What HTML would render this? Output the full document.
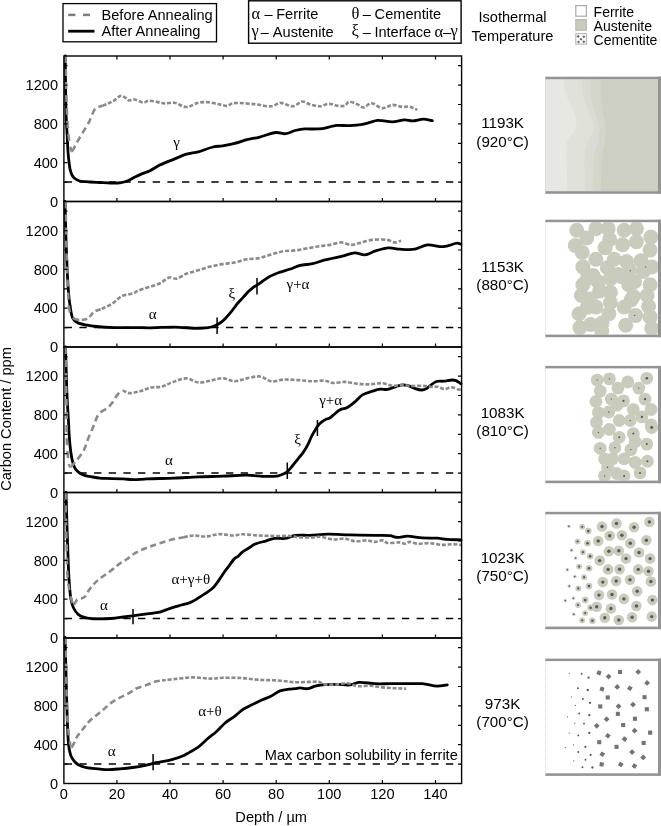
<!DOCTYPE html><html><head><meta charset="utf-8"><title>Carbon content profiles</title><style>html,body{margin:0;padding:0;background:#fff;}body{width:661px;height:826px;overflow:hidden;position:relative;}svg{position:absolute;left:0;top:0;display:block;}</style></head><body>
<svg width="661" height="826" viewBox="0 0 661 826" font-family="'Liberation Sans', Arial, sans-serif">
<rect width="661" height="826" fill="#fff"/>
<rect x="63" y="3.6" width="153.5" height="38.2" fill="none" stroke="#000" stroke-width="1.3"/>
<line x1="68.2" y1="14.9" x2="75.5" y2="14.9" stroke="#7e7e7e" stroke-width="2.5"/>
<line x1="83" y1="14.9" x2="90" y2="14.9" stroke="#7e7e7e" stroke-width="2.5"/>
<line x1="68.2" y1="31.2" x2="94.5" y2="31.2" stroke="#000" stroke-width="2.8"/>
<text x="101.5" y="19.6" font-size="14.6">Before Annealing</text>
<text x="101.5" y="35.8" font-size="14.6">After Annealing</text>
<rect x="248.6" y="0.8" width="212.5" height="42.4" fill="none" stroke="#000" stroke-width="1.4"/>
<text x="251.6" y="18.9" font-family="'Liberation Serif', 'Times New Roman', serif" font-size="16.5">α</text>
<text x="264.4" y="18.8" font-size="14.6">–</text>
<text x="276.2" y="18.8" font-size="14.6">Ferrite</text>
<text x="251.4" y="36.0" font-family="'Liberation Serif', 'Times New Roman', serif" font-size="16.5">γ</text>
<text x="260.8" y="36.8" font-size="14.6">–</text>
<text x="272.8" y="36.8" font-size="14.6">Austenite</text>
<text x="351.5" y="18.9" font-family="'Liberation Serif', 'Times New Roman', serif" font-size="16.5">θ</text>
<text x="362.8" y="18.8" font-size="14.6">–</text>
<text x="374.6" y="18.8" font-size="14.6">Cementite</text>
<text x="351.5" y="36.3" font-family="'Liberation Serif', 'Times New Roman', serif" font-size="16.5">ξ</text>
<text x="362.8" y="36.8" font-size="14.6">–</text>
<text x="374.4" y="36.8" font-size="14.6">Interface</text>
<text x="434.5" y="36.6" font-family="'Liberation Serif', 'Times New Roman', serif" font-size="16.5">α</text>
<text x="443.0" y="36.8" font-size="14.6">–</text>
<text x="450.5" y="36.0" font-family="'Liberation Serif', 'Times New Roman', serif" font-size="16.5">γ</text>
<text x="512.5" y="21.8" font-size="14.6" text-anchor="middle">Isothermal</text>
<text x="512.5" y="40.8" font-size="14.6" text-anchor="middle">Temperature</text>
<rect x="575.8" y="5.6" width="10.6" height="10.6" fill="#fff" stroke="#aaa" stroke-width="1.2"/>
<rect x="575.8" y="19.6" width="10.6" height="10.6" fill="#c9cbbd" stroke="#bbb" stroke-width="1.2"/>
<rect x="575.8" y="33.6" width="10.6" height="10.6" fill="#fff" stroke="#bbb" stroke-width="1.2"/>
<rect x="577.1" y="35.3" width="2.2" height="2.2" fill="#6a6a6a" transform="rotate(45 578.2 36.4)"/>
<rect x="582.6999999999999" y="35.6" width="2.2" height="2.2" fill="#6a6a6a" transform="rotate(45 583.8 36.7)"/>
<rect x="579.9" y="38.1" width="2.2" height="2.2" fill="#6a6a6a" transform="rotate(45 581.0 39.2)"/>
<rect x="577.4" y="40.9" width="2.2" height="2.2" fill="#6a6a6a" transform="rotate(45 578.5 42.0)"/>
<rect x="582.6999999999999" y="40.699999999999996" width="2.2" height="2.2" fill="#6a6a6a" transform="rotate(45 583.8 41.8)"/>
<text x="593.6" y="16.8" font-size="14">Ferrite</text>
<text x="593.6" y="31.0" font-size="14">Austenite</text>
<text x="593.6" y="45.0" font-size="14">Cementite</text>
<text x="502.6" y="128.0" font-size="15.2" text-anchor="middle">1193K</text>
<text x="502.6" y="146.5" font-size="15.2" text-anchor="middle">(920°C)</text>
<text x="502.6" y="271.7" font-size="15.2" text-anchor="middle">1153K</text>
<text x="502.6" y="290.0" font-size="15.2" text-anchor="middle">(880°C)</text>
<text x="502.6" y="417.5" font-size="15.2" text-anchor="middle">1083K</text>
<text x="502.6" y="435.5" font-size="15.2" text-anchor="middle">(810°C)</text>
<text x="502.6" y="562.8" font-size="15.2" text-anchor="middle">1023K</text>
<text x="502.6" y="581.0" font-size="15.2" text-anchor="middle">(750°C)</text>
<text x="502.6" y="708.9" font-size="15.2" text-anchor="middle">973K</text>
<text x="502.6" y="726.5" font-size="15.2" text-anchor="middle">(700°C)</text>
<line x1="63.9" y1="182.1" x2="461.6" y2="182.1" stroke="#000" stroke-width="1.5" stroke-dasharray="7.33 7.33" stroke-dashoffset="-0.85"/>
<path d="M65.30,56.00C65.40,67.33 65.42,79.02 65.60,90.00C65.77,100.31 65.95,111.37 66.30,120.00C66.57,126.56 67.01,131.79 67.30,137.30C67.57,142.35 67.67,147.31 68.00,151.80C68.29,155.70 68.69,159.45 69.10,162.70C69.44,165.35 69.66,167.73 70.20,169.90C70.67,171.77 71.21,173.54 72.00,175.00C72.69,176.28 73.43,177.36 74.50,178.30C75.68,179.33 77.23,180.23 78.90,180.80C80.80,181.45 83.42,181.50 85.40,181.70C87.06,181.87 88.17,181.89 90.00,182.00C92.69,182.16 96.67,182.33 100.00,182.50C103.33,182.67 106.85,182.92 110.00,183.00C112.81,183.07 115.53,183.20 118.00,183.00C120.15,182.82 122.11,182.49 124.00,182.00C125.76,181.54 127.29,180.96 129.00,180.20C130.94,179.34 132.93,178.03 135.00,177.00C137.16,175.93 139.33,174.90 141.70,173.90C144.30,172.80 147.18,172.05 150.00,170.70C153.17,169.19 156.08,166.89 159.70,165.10C163.99,162.99 169.58,160.99 174.20,159.10C178.41,157.38 182.21,155.42 186.30,154.20C190.28,153.01 194.22,152.90 198.40,151.80C203.05,150.57 208.51,147.99 212.90,147.00C216.41,146.21 219.20,146.35 222.60,145.80C226.42,145.19 230.69,144.41 234.70,143.40C238.76,142.38 242.74,140.72 246.80,139.70C250.81,138.69 254.55,138.34 258.90,137.30C264.11,136.05 270.99,132.87 275.90,132.50C279.55,132.22 282.41,134.02 285.60,133.70C288.85,133.38 291.96,131.32 295.20,130.50C298.40,129.69 302.17,128.98 304.90,128.80C306.86,128.67 307.93,128.99 310.00,129.00C313.25,129.01 318.59,129.14 322.50,128.60C326.05,128.11 329.74,126.64 332.50,126.10C334.41,125.73 335.38,125.53 337.40,125.40C340.60,125.20 345.74,125.77 349.90,125.60C354.07,125.43 358.79,125.05 362.40,124.40C365.24,123.89 367.40,123.07 369.90,122.40C372.40,121.73 375.14,120.63 377.40,120.40C379.22,120.22 380.45,120.52 382.40,120.70C385.16,120.95 388.89,121.97 392.40,121.90C396.32,121.82 401.18,119.95 404.80,119.90C407.61,119.86 409.55,120.92 412.30,120.90C415.68,120.87 420.08,119.16 423.60,119.20C426.69,119.23 429.40,120.20 432.30,120.70" fill="none" stroke="#000" stroke-width="2.8" stroke-linejoin="round" stroke-linecap="round"/>
<path d="M65.50,56.00C65.83,70.67 66.02,86.74 66.50,100.00C66.90,110.96 67.24,121.73 68.00,130.00C68.54,135.87 69.18,141.11 70.00,145.00C70.53,147.54 70.95,151.08 71.80,151.20" fill="none" stroke="#8a8a8a" stroke-width="2.6" stroke-dasharray="7 6" stroke-linejoin="round"/>
<path d="M71.80,151.20C72.63,151.31 73.96,147.79 75.00,146.00C76.07,144.16 76.89,142.41 78.10,140.30C79.65,137.60 81.78,134.24 83.60,131.20C85.41,128.17 87.37,125.32 89.00,122.10C90.72,118.71 92.12,113.90 93.60,111.30C94.52,109.68 95.01,108.50 96.30,107.60C97.84,106.52 100.51,106.54 102.60,105.80" fill="none" stroke="#8a8a8a" stroke-width="2.6" stroke-dasharray="6.5 4" stroke-linejoin="round"/>
<path d="M102.60,105.80C104.75,105.04 106.97,104.03 109.00,103.10C110.89,102.23 112.57,101.51 114.40,100.40C116.49,99.14 118.83,96.04 120.80,95.80C122.29,95.62 123.66,96.76 125.00,97.50C126.40,98.28 127.48,100.04 129.00,100.40C130.60,100.78 132.39,99.35 134.40,99.50C137.06,99.70 140.85,102.50 143.50,102.50C145.56,102.50 146.84,100.86 149.00,100.70C151.98,100.47 156.94,101.99 159.80,102.50C161.69,102.84 162.64,103.29 164.50,103.40C167.15,103.56 170.84,102.24 174.20,102.70C178.06,103.22 182.27,107.00 186.30,107.00C190.33,107.00 194.54,103.47 198.40,102.70C201.76,102.03 204.70,101.95 208.10,102.20C211.93,102.48 216.67,103.96 220.20,104.60C222.93,105.10 225.37,106.12 227.50,105.80C229.32,105.52 230.04,103.90 232.30,103.40C236.87,102.40 247.31,103.55 254.10,104.10C260.10,104.59 266.19,106.80 271.00,106.30C274.73,105.91 277.27,103.01 280.70,102.90C284.49,102.78 289.05,106.65 292.80,106.30C296.28,105.98 299.45,101.64 302.50,101.50C305.13,101.38 307.28,103.64 310.00,104.40C313.06,105.26 316.80,106.36 320.00,106.20C323.02,106.05 325.79,103.78 328.70,103.70C331.59,103.62 334.59,105.38 337.40,105.70C339.98,105.99 342.94,106.51 344.90,105.70C346.56,105.01 347.06,102.36 348.70,101.90C350.66,101.35 353.75,102.81 356.20,103.70C358.75,104.62 361.23,107.47 363.70,107.40C366.19,107.33 368.33,103.34 371.10,103.20C374.43,103.03 378.71,108.02 382.40,108.20C385.80,108.37 389.05,105.10 392.40,104.90C395.68,104.70 399.21,106.63 402.30,106.90C404.96,107.13 407.35,106.23 409.80,106.70C412.35,107.19 414.80,108.83 417.30,109.90" fill="none" stroke="#8a8a8a" stroke-width="2.6" stroke-dasharray="4.0 1.8" stroke-linejoin="round"/>
<rect x="63.9" y="56.0" width="397.70000000000005" height="145.5" fill="none" stroke="#000" stroke-width="1.4"/>
<path d="M116.9,56.0v3.6M116.9,201.5v-3.6M170.0,56.0v3.6M170.0,201.5v-3.6M223.1,56.0v3.6M223.1,201.5v-3.6M276.2,56.0v3.6M276.2,201.5v-3.6M329.3,56.0v3.6M329.3,201.5v-3.6M382.4,56.0v3.6M382.4,201.5v-3.6M435.5,56.0v3.6M435.5,201.5v-3.6M63.9,182.1h3.6M461.6,182.1h-3.6M63.9,162.7h3.6M461.6,162.7h-3.6M63.9,143.3h3.6M461.6,143.3h-3.6M63.9,123.9h3.6M461.6,123.9h-3.6M63.9,104.5h3.6M461.6,104.5h-3.6M63.9,85.1h3.6M461.6,85.1h-3.6M63.9,65.7h3.6M461.6,65.7h-3.6" stroke="#000" stroke-width="1.2" fill="none"/>
<text x="58" y="206.7" font-size="14.6" text-anchor="end">0</text>
<text x="58" y="167.9" font-size="14.6" text-anchor="end">400</text>
<text x="58" y="129.1" font-size="14.6" text-anchor="end">800</text>
<text x="58" y="90.3" font-size="14.6" text-anchor="end">1200</text>
<line x1="63.9" y1="327.6" x2="461.6" y2="327.6" stroke="#000" stroke-width="1.5" stroke-dasharray="7.33 7.33" stroke-dashoffset="-0.85"/>
<path d="M65.00,201.50C65.33,214.33 65.60,227.70 66.00,240.00C66.37,251.32 66.82,263.14 67.30,272.60C67.67,279.90 67.99,286.15 68.50,292.00C68.92,296.86 69.29,300.93 70.00,305.30C70.70,309.60 71.07,315.00 72.70,318.00C73.84,320.10 75.21,321.35 77.20,322.50C79.74,323.97 83.93,324.53 87.20,325.20C90.29,325.83 92.74,326.14 96.30,326.50C101.30,327.01 108.36,327.42 114.40,327.60C120.46,327.78 126.60,327.57 132.60,327.60C138.47,327.63 143.72,327.85 150.00,327.80C157.40,327.74 166.13,327.02 174.20,327.10C182.27,327.18 192.15,328.37 198.40,328.30C202.36,328.26 205.72,327.90 208.10,327.60C209.50,327.42 210.19,327.33 211.40,327.00C212.95,326.58 214.90,325.94 216.60,325.10C218.41,324.20 220.20,323.07 221.90,321.70C223.75,320.21 225.47,318.28 227.20,316.40C229.01,314.43 230.76,312.27 232.50,310.10C234.29,307.87 235.99,305.36 237.80,303.20C239.52,301.14 241.34,299.35 243.10,297.40C244.87,295.45 246.67,293.19 248.40,291.50C249.86,290.07 251.23,288.88 252.70,287.80C254.07,286.80 255.43,286.17 256.90,285.20C258.58,284.10 260.35,282.77 262.20,281.50C264.21,280.12 266.33,278.45 268.50,277.20C270.60,275.99 273.19,274.89 275.00,274.10C276.27,273.55 276.84,273.32 278.30,272.80C281.06,271.83 286.60,270.30 290.40,269.00C293.83,267.83 296.62,266.27 300.10,265.40C303.93,264.44 308.39,264.60 312.50,263.70C316.70,262.78 320.46,261.07 325.00,259.90C330.29,258.53 337.09,257.46 342.40,256.20C346.92,255.12 350.95,253.02 354.90,252.90C358.41,252.79 361.60,255.16 364.90,254.90C368.27,254.63 371.27,252.30 374.90,251.20C379.07,249.93 384.23,248.17 388.60,247.90C392.53,247.66 395.87,248.97 399.90,249.20C404.52,249.46 410.11,249.98 414.80,249.20C419.21,248.46 422.80,245.40 427.30,244.90C432.29,244.35 438.35,247.06 443.50,246.70C448.32,246.37 454.16,243.18 457.30,243.20C458.93,243.21 459.77,243.87 461.00,244.20" fill="none" stroke="#000" stroke-width="2.8" stroke-linejoin="round" stroke-linecap="round"/>
<path d="M65.50,201.50C65.83,217.67 66.05,234.61 66.50,250.00C66.91,263.98 67.28,278.58 68.00,290.00C68.54,298.58 68.15,307.44 70.00,312.50C71.09,315.48 72.49,317.69 74.50,318.90C76.45,320.07 79.55,319.85 81.80,319.80" fill="none" stroke="#8a8a8a" stroke-width="2.6" stroke-dasharray="7 6" stroke-linejoin="round"/>
<path d="M81.80,319.80C83.74,319.76 85.41,319.82 87.20,318.90C89.66,317.64 91.88,313.29 94.50,311.60C96.76,310.14 99.09,310.05 101.70,308.90" fill="none" stroke="#8a8a8a" stroke-width="2.6" stroke-dasharray="5.5 3" stroke-linejoin="round"/>
<path d="M101.70,308.90C104.99,307.46 109.23,305.55 112.60,303.40C115.88,301.30 118.33,297.85 121.70,296.20C125.01,294.58 129.65,294.61 132.60,293.50C134.77,292.68 135.84,291.61 138.00,290.70C140.96,289.45 145.28,288.30 148.90,287.10C152.51,285.90 156.28,285.10 159.70,283.50C163.12,281.90 166.30,278.11 169.40,277.50C171.88,277.01 174.09,279.08 176.60,278.70C179.67,278.23 182.82,275.18 186.30,273.80C190.05,272.31 194.37,271.40 198.40,270.20C202.43,269.00 206.44,267.62 210.50,266.60C214.51,265.59 218.55,264.78 222.60,264.10C226.62,263.42 230.69,263.29 234.70,262.50C238.76,261.70 242.74,260.03 246.80,259.30C250.80,258.58 254.90,258.89 258.90,258.10C262.97,257.30 266.96,255.64 271.00,254.50C275.02,253.37 279.03,251.98 283.10,251.30C287.10,250.63 290.98,250.91 295.20,250.40C299.90,249.83 305.55,248.65 310.00,247.90C313.66,247.28 316.66,246.70 320.00,246.20C323.33,245.70 326.59,245.50 330.00,244.90C333.64,244.26 337.58,242.35 341.20,242.40C344.63,242.44 347.98,244.87 351.20,244.90C354.20,244.93 356.74,243.64 359.90,242.90C363.69,242.01 368.01,240.42 372.40,239.90C377.14,239.34 383.30,239.23 387.40,239.90C390.38,240.38 392.51,242.34 394.90,242.40C397.06,242.46 399.03,241.27 401.10,240.70" fill="none" stroke="#8a8a8a" stroke-width="2.6" stroke-dasharray="4.2 1.9" stroke-linejoin="round"/>
<rect x="63.9" y="201.5" width="397.70000000000005" height="145.5" fill="none" stroke="#000" stroke-width="1.4"/>
<path d="M116.9,347.0v-3.6M170.0,347.0v-3.6M223.1,347.0v-3.6M276.2,347.0v-3.6M329.3,347.0v-3.6M382.4,347.0v-3.6M435.5,347.0v-3.6M63.9,327.6h3.6M461.6,327.6h-3.6M63.9,308.2h3.6M461.6,308.2h-3.6M63.9,288.8h3.6M461.6,288.8h-3.6M63.9,269.4h3.6M461.6,269.4h-3.6M63.9,250.0h3.6M461.6,250.0h-3.6M63.9,230.6h3.6M461.6,230.6h-3.6M63.9,211.2h3.6M461.6,211.2h-3.6" stroke="#000" stroke-width="1.2" fill="none"/>
<text x="58" y="352.2" font-size="14.6" text-anchor="end">0</text>
<text x="58" y="313.4" font-size="14.6" text-anchor="end">400</text>
<text x="58" y="274.6" font-size="14.6" text-anchor="end">800</text>
<text x="58" y="235.8" font-size="14.6" text-anchor="end">1200</text>
<line x1="63.9" y1="473.1" x2="461.6" y2="473.1" stroke="#000" stroke-width="1.5" stroke-dasharray="7.33 7.33" stroke-dashoffset="-0.85"/>
<path d="M65.50,347.00C65.73,354.67 65.96,362.17 66.20,370.00C66.45,378.16 66.63,386.67 67.00,395.00C67.37,403.34 67.97,412.33 68.40,420.00C68.76,426.55 68.95,432.48 69.40,438.20C69.80,443.31 70.27,448.40 70.90,452.70C71.41,456.18 71.88,459.28 72.70,462.10C73.40,464.53 74.08,466.84 75.30,468.70C76.43,470.42 77.94,471.86 79.60,473.00C81.30,474.17 83.31,474.94 85.40,475.60C87.66,476.31 90.26,476.58 92.70,477.00C95.13,477.42 97.74,477.87 100.00,478.10C101.93,478.30 103.07,478.31 105.40,478.40C109.66,478.57 118.50,478.50 123.50,478.80C127.05,479.01 129.21,479.63 132.60,479.70C136.87,479.79 141.52,479.14 147.10,478.90C154.73,478.58 165.42,478.45 174.20,478.10C182.50,477.77 190.33,477.22 198.40,476.90C206.47,476.58 214.53,476.48 222.60,476.20C230.67,475.92 239.18,475.12 246.80,475.20C253.63,475.27 260.49,476.37 266.20,476.40C270.71,476.43 275.08,476.47 278.30,475.80C280.57,475.33 282.28,474.48 283.90,473.70C285.24,473.06 286.22,472.59 287.40,471.60C289.00,470.26 290.64,467.98 292.30,466.00C294.10,463.84 295.96,461.41 297.80,459.10C299.66,456.77 301.74,454.49 303.40,452.10C304.99,449.82 306.28,447.62 307.60,445.10C309.06,442.33 310.41,438.62 311.70,436.10C312.68,434.19 313.49,432.87 314.50,431.20C315.58,429.41 316.74,427.27 318.00,425.70C319.10,424.33 320.22,423.25 321.50,422.20C322.79,421.14 324.26,420.11 325.70,419.40C327.03,418.74 328.49,418.74 329.80,418.00C331.27,417.17 332.47,415.75 334.00,414.50C335.82,413.02 337.77,410.88 340.00,409.70C342.24,408.51 345.02,408.60 347.40,407.40C350.01,406.09 352.46,403.92 354.90,401.90C357.46,399.78 359.52,396.68 362.40,394.90C365.34,393.09 369.27,392.19 372.40,391.20C375.09,390.35 377.46,389.49 380.00,389.20C382.46,388.92 384.88,389.77 387.40,389.40C390.17,388.99 393.21,387.40 395.90,386.60C398.28,385.89 400.54,384.90 402.70,384.80C404.62,384.71 406.35,385.18 408.20,385.70C410.21,386.27 412.14,387.50 414.30,388.20C416.62,388.95 419.49,390.04 421.70,390.00C423.51,389.96 425.05,389.41 426.60,388.60C428.33,387.70 429.83,385.80 431.50,384.60C433.10,383.45 434.51,382.09 436.40,381.50C438.52,380.84 441.17,381.43 443.70,381.20C446.46,380.95 450.03,379.97 452.30,380.00C453.79,380.02 454.73,380.11 456.00,380.60C457.60,381.21 459.33,382.73 461.00,383.80" fill="none" stroke="#000" stroke-width="2.8" stroke-linejoin="round" stroke-linecap="round"/>
<path d="M65.50,347.00C65.83,364.67 66.17,382.42 66.50,400.00C66.83,417.42 66.28,440.05 67.50,452.00C68.15,458.36 68.34,465.89 70.20,466.50" fill="none" stroke="#8a8a8a" stroke-width="2.6" stroke-dasharray="7 6" stroke-linejoin="round"/>
<path d="M70.20,466.50C71.52,466.93 73.71,463.55 75.60,461.40C78.23,458.41 81.85,453.82 84.00,449.80C86.00,446.06 86.81,441.92 88.30,438.20C89.71,434.67 91.42,431.09 92.70,428.00C93.76,425.46 94.68,423.05 95.50,421.00C96.14,419.39 96.39,418.09 97.20,416.70C98.10,415.15 99.25,413.59 100.80,412.20C102.70,410.50 106.07,409.38 108.10,407.60C109.93,406.00 111.08,404.23 112.60,402.20C114.40,399.79 116.17,396.01 118.10,394.00C119.55,392.49 120.90,390.93 122.60,390.70" fill="none" stroke="#8a8a8a" stroke-width="2.6" stroke-dasharray="6.5 4" stroke-linejoin="round"/>
<path d="M122.60,390.70C124.48,390.44 126.55,392.86 129.00,393.10C132.12,393.41 136.31,392.20 139.90,391.30C143.55,390.38 147.00,388.38 150.70,387.60C154.40,386.82 158.52,387.49 162.10,386.60C165.54,385.75 168.20,383.76 171.80,382.50C176.11,380.99 181.70,378.28 186.30,378.40C190.53,378.51 194.32,382.15 198.40,382.50C202.39,382.84 206.47,381.32 210.50,380.60C214.54,379.88 218.58,378.09 222.60,378.20C226.65,378.31 230.66,381.27 234.70,381.30C238.73,381.33 242.65,379.19 246.80,378.40C251.11,377.58 255.96,375.93 260.10,376.50C264.00,377.03 267.19,380.77 271.00,381.30C274.86,381.83 278.87,379.82 283.10,379.60C287.73,379.36 292.82,379.84 297.70,380.10C302.62,380.37 307.77,381.12 312.50,381.20C316.84,381.27 321.39,380.26 325.00,380.70C327.85,381.05 329.66,382.61 332.50,382.90C336.09,383.27 340.77,381.77 344.90,381.90C349.07,382.03 353.22,383.28 357.40,383.70C361.56,384.11 365.74,384.48 369.90,384.40C374.07,384.32 378.50,382.89 382.40,383.20C385.92,383.48 388.99,385.48 392.30,385.80C395.52,386.12 398.75,385.19 402.00,385.20C405.28,385.21 408.43,385.78 411.90,385.90C415.75,386.04 420.55,385.64 424.10,385.90C426.88,386.11 429.15,386.85 431.50,387.00C433.63,387.14 435.49,386.60 437.60,386.90C439.97,387.24 442.66,389.22 445.00,389.20C447.13,389.18 448.97,387.21 451.10,387.20C453.42,387.19 456.56,389.18 458.40,389.50C459.47,389.69 460.13,389.57 461.00,389.60" fill="none" stroke="#8a8a8a" stroke-width="2.6" stroke-dasharray="4.0 1.8" stroke-linejoin="round"/>
<rect x="63.9" y="347.0" width="397.70000000000005" height="145.5" fill="none" stroke="#000" stroke-width="1.4"/>
<path d="M116.9,492.5v-3.6M170.0,492.5v-3.6M223.1,492.5v-3.6M276.2,492.5v-3.6M329.3,492.5v-3.6M382.4,492.5v-3.6M435.5,492.5v-3.6M63.9,473.1h3.6M461.6,473.1h-3.6M63.9,453.7h3.6M461.6,453.7h-3.6M63.9,434.3h3.6M461.6,434.3h-3.6M63.9,414.9h3.6M461.6,414.9h-3.6M63.9,395.5h3.6M461.6,395.5h-3.6M63.9,376.1h3.6M461.6,376.1h-3.6M63.9,356.7h3.6M461.6,356.7h-3.6" stroke="#000" stroke-width="1.2" fill="none"/>
<text x="58" y="497.7" font-size="14.6" text-anchor="end">0</text>
<text x="58" y="458.9" font-size="14.6" text-anchor="end">400</text>
<text x="58" y="420.1" font-size="14.6" text-anchor="end">800</text>
<text x="58" y="381.3" font-size="14.6" text-anchor="end">1200</text>
<line x1="63.9" y1="618.6" x2="461.6" y2="618.6" stroke="#000" stroke-width="1.5" stroke-dasharray="7.33 7.33" stroke-dashoffset="-0.85"/>
<path d="M66.00,492.50C66.53,509.80 67.03,528.64 67.60,544.40C68.08,557.58 68.40,570.68 69.10,580.70C69.60,587.81 69.92,593.91 70.90,598.90C71.60,602.49 72.30,605.34 73.60,608.00C74.77,610.40 76.16,612.70 78.10,614.30C80.08,615.92 82.66,616.84 85.40,617.60C88.61,618.49 92.40,618.72 96.30,618.90C100.78,619.10 106.13,618.84 110.80,618.50C115.18,618.18 119.62,617.48 123.50,617.00C126.79,616.59 129.22,616.26 132.60,615.80C136.87,615.22 142.43,614.42 147.10,613.80C151.45,613.22 155.82,613.15 159.70,612.20C163.20,611.34 165.97,609.75 169.40,608.60C173.19,607.33 177.82,606.07 181.50,605.00C184.58,604.11 187.53,603.56 190.00,602.60C192.05,601.81 193.62,600.92 195.40,599.90C197.26,598.83 198.94,597.57 200.90,596.30C203.13,594.85 205.90,593.29 208.10,591.70C210.10,590.25 212.03,588.80 213.60,587.20C215.02,585.75 216.02,584.21 217.20,582.60C218.45,580.89 219.68,579.00 220.90,577.20C222.11,575.40 223.20,573.62 224.50,571.80C225.89,569.86 227.43,567.97 229.00,565.90C230.74,563.60 232.71,560.25 234.50,558.60C235.72,557.47 236.89,557.27 238.10,556.30C239.58,555.11 240.82,553.20 242.60,551.80C244.68,550.17 247.91,548.65 250.00,547.30C251.58,546.28 252.29,545.37 254.10,544.50C256.99,543.11 262.52,541.88 266.20,540.80C269.28,539.90 271.66,538.82 274.70,538.40C278.08,537.93 282.12,538.91 285.60,538.40C288.94,537.91 291.61,536.06 295.20,535.50C299.56,534.83 304.86,535.50 310.00,535.30C315.59,535.09 321.30,534.30 327.50,534.20C334.50,534.09 342.23,534.70 349.90,534.90C358.00,535.11 367.63,535.25 374.90,535.40C380.54,535.51 385.78,535.20 389.90,535.70C392.85,536.06 394.71,537.26 397.40,537.40C400.46,537.56 403.66,536.21 407.30,536.20C411.78,536.18 417.29,537.57 422.30,537.90C427.29,538.23 432.81,537.89 437.30,538.20C440.98,538.46 443.70,539.12 447.30,539.40C451.50,539.73 456.43,539.73 461.00,539.90" fill="none" stroke="#000" stroke-width="2.8" stroke-linejoin="round" stroke-linecap="round"/>
<path d="M65.50,492.50C65.83,508.33 65.99,524.38 66.50,540.00C67.00,555.21 66.64,573.21 68.50,585.00C69.74,592.86 71.78,603.94 73.80,604.30" fill="none" stroke="#8a8a8a" stroke-width="2.6" stroke-dasharray="7 6" stroke-linejoin="round"/>
<path d="M73.80,604.30C74.92,604.50 75.92,600.28 77.40,599.30C78.66,598.46 80.51,598.75 81.80,598.30C82.89,597.92 83.79,597.72 84.70,596.90C86.02,595.71 86.94,593.06 88.30,591.10C89.80,588.93 91.55,586.53 93.40,584.50C95.22,582.50 96.93,580.93 99.30,579.00C102.43,576.44 107.23,573.50 110.80,570.80C114.05,568.34 116.97,565.57 119.90,563.50C122.41,561.73 124.82,560.64 127.20,559.00C129.65,557.31 131.77,555.13 134.40,553.50C137.18,551.77 140.61,550.25 143.50,549.00C146.01,547.91 148.16,547.20 150.70,546.30C153.52,545.30 156.47,544.33 159.70,543.30C163.43,542.11 167.74,540.62 171.80,539.60C175.81,538.59 180.09,537.91 183.90,537.20" fill="none" stroke="#8a8a8a" stroke-width="2.6" stroke-dasharray="6.2 3.6" stroke-linejoin="round"/>
<path d="M183.90,537.20C187.31,536.56 190.18,535.66 193.60,535.50C197.40,535.33 201.50,536.67 205.70,536.50C210.33,536.31 215.58,534.21 220.20,534.10C224.41,534.00 228.49,535.52 232.30,535.50C235.71,535.49 238.32,534.40 242.00,534.30C246.85,534.17 253.26,535.22 258.90,535.50C264.56,535.78 270.46,535.92 275.90,536.00C280.92,536.07 286.07,535.69 290.40,536.00C293.94,536.26 296.58,537.15 300.00,537.40C303.88,537.68 308.87,537.57 312.50,537.40C315.32,537.27 317.20,536.53 320.00,536.70C323.65,536.92 328.32,539.07 332.50,539.40C336.62,539.72 341.01,538.33 344.90,538.70C348.44,539.03 351.35,540.88 354.90,541.20C358.81,541.55 363.78,540.16 367.40,540.40C370.23,540.59 372.40,541.90 374.90,541.90C377.40,541.90 380.20,540.10 382.40,540.40C384.28,540.65 385.29,542.45 387.40,542.90C390.56,543.58 396.71,542.05 399.90,542.40C401.93,542.62 403.17,543.77 404.80,543.70C406.47,543.63 407.95,542.00 409.80,541.90C412.03,541.78 414.46,543.42 417.30,543.70C420.92,544.05 425.64,543.00 429.80,543.20C433.98,543.40 438.36,544.77 442.30,544.90C445.81,545.01 449.08,544.18 452.30,544.20C455.30,544.22 458.10,544.67 461.00,544.90" fill="none" stroke="#8a8a8a" stroke-width="2.6" stroke-dasharray="4.0 1.8" stroke-linejoin="round"/>
<rect x="63.9" y="492.5" width="397.70000000000005" height="145.5" fill="none" stroke="#000" stroke-width="1.4"/>
<path d="M116.9,638.0v-3.6M170.0,638.0v-3.6M223.1,638.0v-3.6M276.2,638.0v-3.6M329.3,638.0v-3.6M382.4,638.0v-3.6M435.5,638.0v-3.6M63.9,618.6h3.6M461.6,618.6h-3.6M63.9,599.2h3.6M461.6,599.2h-3.6M63.9,579.8h3.6M461.6,579.8h-3.6M63.9,560.4h3.6M461.6,560.4h-3.6M63.9,541.0h3.6M461.6,541.0h-3.6M63.9,521.6h3.6M461.6,521.6h-3.6M63.9,502.2h3.6M461.6,502.2h-3.6" stroke="#000" stroke-width="1.2" fill="none"/>
<text x="58" y="643.2" font-size="14.6" text-anchor="end">0</text>
<text x="58" y="604.4" font-size="14.6" text-anchor="end">400</text>
<text x="58" y="565.6" font-size="14.6" text-anchor="end">800</text>
<text x="58" y="526.8" font-size="14.6" text-anchor="end">1200</text>
<line x1="63.9" y1="764.1" x2="461.6" y2="764.1" stroke="#000" stroke-width="1.5" stroke-dasharray="7.33 7.33" stroke-dashoffset="-0.85"/>
<path d="M65.10,637.50C65.53,654.80 65.96,673.73 66.40,689.40C66.76,702.38 67.04,714.76 67.50,725.00C67.85,732.77 67.93,739.87 68.70,745.50C69.25,749.51 69.75,752.86 70.90,755.70C71.83,758.00 73.09,759.89 74.50,761.50C75.79,762.97 77.19,764.15 78.90,765.10C80.78,766.14 83.15,766.75 85.40,767.30C87.74,767.87 90.26,768.10 92.70,768.40C95.13,768.70 97.57,768.88 100.00,769.10C102.41,769.32 104.46,769.67 107.20,769.70C110.84,769.74 115.67,769.27 119.90,768.90C124.14,768.53 128.38,768.10 132.60,767.50C136.84,766.90 141.43,766.12 145.30,765.30C148.60,764.60 151.76,763.56 154.40,763.00C156.39,762.58 157.58,762.49 159.70,762.10C162.92,761.51 167.80,760.78 171.80,759.70C175.87,758.60 180.75,756.91 183.90,755.50C186.05,754.54 187.13,753.73 189.10,752.60C191.72,751.09 195.28,749.36 198.20,747.20C201.33,744.88 204.15,741.61 207.20,739.00C210.19,736.45 213.33,734.34 216.30,731.70C219.41,728.93 222.25,725.33 225.40,722.70C228.33,720.25 231.51,718.56 234.50,716.30C237.55,714.00 240.38,711.00 243.50,709.00C246.42,707.12 249.57,706.00 252.60,704.50C255.63,703.00 258.64,701.38 261.70,700.00C264.71,698.65 267.82,697.78 270.80,696.30C273.89,694.76 276.77,692.10 279.90,690.90C282.82,689.78 286.16,689.48 288.90,689.10C291.18,688.78 293.25,688.82 295.20,688.60C296.91,688.41 298.22,687.93 300.00,687.90C302.22,687.86 305.03,688.97 307.50,688.70C310.03,688.43 312.48,686.84 315.00,686.20C317.48,685.58 319.56,685.20 322.50,684.90C326.61,684.48 332.65,684.38 337.40,684.40C341.75,684.41 346.13,685.35 349.90,684.90C353.12,684.52 355.29,682.74 358.70,682.40C363.25,681.95 369.60,683.49 374.90,683.70C379.99,683.90 384.71,683.70 389.90,683.70C395.48,683.70 401.72,683.70 407.30,683.70C412.49,683.70 417.32,683.29 422.30,683.70C427.32,684.12 432.80,686.12 437.30,686.20C440.96,686.27 443.97,685.33 447.30,684.90" fill="none" stroke="#000" stroke-width="2.8" stroke-linejoin="round" stroke-linecap="round"/>
<path d="M65.50,637.50C65.83,655.00 65.95,673.48 66.50,690.00C66.99,704.78 67.18,721.56 68.50,732.00C69.30,738.30 70.23,746.78 71.60,747.00" fill="none" stroke="#8a8a8a" stroke-width="2.6" stroke-dasharray="7 6" stroke-linejoin="round"/>
<path d="M71.60,747.00C72.44,747.14 73.56,743.75 74.50,742.00C75.50,740.13 76.13,738.10 77.40,736.10C78.91,733.72 81.33,731.17 83.20,728.80C84.96,726.57 86.39,724.32 88.30,722.30C90.27,720.21 92.53,718.51 94.90,716.50C97.58,714.23 100.86,711.72 103.60,709.40C106.13,707.26 108.17,705.02 110.80,703.10C113.58,701.07 116.83,699.28 119.90,697.60C122.90,695.96 126.18,694.69 129.00,693.10C131.58,691.64 133.46,689.80 136.20,688.50C139.38,686.99 143.85,686.12 147.10,684.90C149.80,683.88 151.89,682.53 154.40,681.80C156.89,681.07 159.24,680.91 162.10,680.50" fill="none" stroke="#8a8a8a" stroke-width="2.6" stroke-dasharray="6.2 3.6" stroke-linejoin="round"/>
<path d="M162.10,680.50C165.67,679.99 169.69,679.56 174.20,679.10C179.90,678.52 187.35,677.45 193.60,677.40C199.43,677.35 205.34,678.59 210.50,678.60C214.87,678.61 218.09,677.91 222.60,677.80C228.30,677.66 235.76,677.74 242.00,678.10C247.83,678.44 253.07,679.40 258.90,679.80C265.14,680.23 272.06,680.07 278.30,680.50C284.13,680.90 289.75,681.98 295.20,682.20C300.29,682.40 305.72,681.94 310.00,681.90C313.28,681.87 316.08,681.40 318.70,681.90C321.02,682.34 322.49,683.92 325.00,684.40C328.39,685.05 333.50,684.63 337.40,684.40C340.92,684.19 344.10,682.92 347.40,683.20C350.76,683.49 353.84,685.75 357.40,686.20C361.30,686.69 365.74,685.50 369.90,685.70C374.08,685.90 378.23,686.98 382.40,687.40C386.56,687.82 390.85,687.98 394.90,688.20C398.73,688.41 402.37,688.53 406.10,688.70" fill="none" stroke="#8a8a8a" stroke-width="2.6" stroke-dasharray="4.0 1.8" stroke-linejoin="round"/>
<rect x="63.9" y="638.0" width="397.70000000000005" height="145.5" fill="none" stroke="#000" stroke-width="1.4"/>
<path d="M116.9,783.5v-3.6M170.0,783.5v-3.6M223.1,783.5v-3.6M276.2,783.5v-3.6M329.3,783.5v-3.6M382.4,783.5v-3.6M435.5,783.5v-3.6M63.9,764.1h3.6M461.6,764.1h-3.6M63.9,744.7h3.6M461.6,744.7h-3.6M63.9,725.3h3.6M461.6,725.3h-3.6M63.9,705.9h3.6M461.6,705.9h-3.6M63.9,686.5h3.6M461.6,686.5h-3.6M63.9,667.1h3.6M461.6,667.1h-3.6M63.9,647.7h3.6M461.6,647.7h-3.6" stroke="#000" stroke-width="1.2" fill="none"/>
<text x="58" y="788.7" font-size="14.6" text-anchor="end">0</text>
<text x="58" y="749.9" font-size="14.6" text-anchor="end">400</text>
<text x="58" y="711.1" font-size="14.6" text-anchor="end">800</text>
<text x="58" y="672.3" font-size="14.6" text-anchor="end">1200</text>
<text x="63.8" y="799.3" font-size="14.6" text-anchor="middle">0</text>
<text x="116.9" y="799.3" font-size="14.6" text-anchor="middle">20</text>
<text x="170.0" y="799.3" font-size="14.6" text-anchor="middle">40</text>
<text x="223.1" y="799.3" font-size="14.6" text-anchor="middle">60</text>
<text x="276.2" y="799.3" font-size="14.6" text-anchor="middle">80</text>
<text x="329.3" y="799.3" font-size="14.6" text-anchor="middle">100</text>
<text x="382.4" y="799.3" font-size="14.6" text-anchor="middle">120</text>
<text x="435.5" y="799.3" font-size="14.6" text-anchor="middle">140</text>
<text x="271.2" y="822" font-size="14.6" text-anchor="middle">Depth / µm</text>
<text transform="translate(11,419) rotate(-90)" font-size="14.6" text-anchor="middle">Carbon Content / ppm</text>
<path d="M217.1,317.4V333.9M257,278V294.4M287.3,462.4V478.9M317.4,420.1V436.1M133,608.9V624.3M153.1,753.9V770.2" stroke="#000" stroke-width="1.5"/>
<text x="176.6" y="147.3" font-family="'Liberation Serif', 'Times New Roman', serif" font-size="15" text-anchor="middle">γ</text>
<text x="152.6" y="319.3" font-family="'Liberation Serif', 'Times New Roman', serif" font-size="15" text-anchor="middle">α</text>
<text x="231.8" y="297.8" font-family="'Liberation Serif', 'Times New Roman', serif" font-size="15" text-anchor="middle">ξ</text>
<text x="286.5" y="288.8" font-family="'Liberation Serif', 'Times New Roman', serif" font-size="15" text-anchor="start">γ+α</text>
<text x="168.9" y="465.3" font-family="'Liberation Serif', 'Times New Roman', serif" font-size="15" text-anchor="middle">α</text>
<text x="297.7" y="443.8" font-family="'Liberation Serif', 'Times New Roman', serif" font-size="15" text-anchor="middle">ξ</text>
<text x="319.2" y="404.8" font-family="'Liberation Serif', 'Times New Roman', serif" font-size="15" text-anchor="start">γ+α</text>
<text x="103.9" y="610.1" font-family="'Liberation Serif', 'Times New Roman', serif" font-size="15" text-anchor="middle">α</text>
<text x="171.5" y="584.3" font-family="'Liberation Serif', 'Times New Roman', serif" font-size="15" text-anchor="start">α+γ+θ</text>
<text x="111.7" y="756.0" font-family="'Liberation Serif', 'Times New Roman', serif" font-size="15" text-anchor="middle">α</text>
<text x="198.2" y="716.0" font-family="'Liberation Serif', 'Times New Roman', serif" font-size="15" text-anchor="start">α+θ</text>
<text x="457.8" y="759.8" font-size="14.6" text-anchor="end">Max carbon solubility in ferrite</text>
<defs><clipPath id="cb0"><rect x="545.5" y="79.2" width="112.5" height="112.00000000000001"/></clipPath><clipPath id="cb1"><rect x="545.5" y="222.2" width="112.5" height="112.4"/></clipPath><clipPath id="cb2"><rect x="545.5" y="368.4" width="112.5" height="112.20000000000002"/></clipPath><clipPath id="cb3"><rect x="545.5" y="514.3" width="112.5" height="112.30000000000004"/></clipPath><clipPath id="cb4"><rect x="545.5" y="661.1" width="112.5" height="112.19999999999996"/></clipPath></defs>
<g clip-path="url(#cb0)">
<rect x="545.5" y="76.7" width="112.5" height="117.10000000000001" fill="#cdcfc3"/>
<path d="M545.5,76.7 L600.5,76.7 L600.5,79 L601,100 L603.5,115 L606,126 L605,140 L602,155 L600.5,191 L600.5,193.8 L545.5,193.8Z" fill="#d4d6cb"/>
<path d="M545.5,76.7 L590,76.7 L590,79 L591,95 L594,110 L598,122 L600,130 L598,142 L594,155 L592.5,191 L592.5,193.8 L545.5,193.8Z" fill="#dadbd2"/>
<path d="M545.5,76.7 L581.7,76.7 L581.7,79 L582.5,92 L585.5,104 L590,114 L593.9,124 L593,132 L588,141 L584.7,150 L584.5,165 L585.5,191 L585.5,193.8 L545.5,193.8Z" fill="#e0e1d9"/>
<path d="M545.5,76.7 L563.4,76.7 L563.4,79 L564.5,88 L567,97 L571,106 L574.5,113 L576.5,120 L576.5,126 L574,132 L569.5,137 L566.5,143 L566.3,155 L566.8,170 L567.5,191 L567.5,193.8 L545.5,193.8Z" fill="#e8e8e3"/>
</g>
<g clip-path="url(#cb1)">
<circle cx="576.8" cy="230.2" r="7.5" fill="#c9cbbd"/><circle cx="586.7" cy="237.9" r="7.5" fill="#c9cbbd"/><circle cx="595.9" cy="228.7" r="7.5" fill="#c9cbbd"/><circle cx="608.1" cy="228.7" r="7.5" fill="#c9cbbd"/><circle cx="609.7" cy="239.4" r="7.5" fill="#c9cbbd"/><circle cx="624.2" cy="230.2" r="7.5" fill="#c9cbbd"/><circle cx="636.4" cy="228.7" r="7.5" fill="#c9cbbd"/><circle cx="622.6" cy="244.7" r="7.5" fill="#c9cbbd"/><circle cx="636.4" cy="241.7" r="7.5" fill="#c9cbbd"/><circle cx="650.9" cy="237.1" r="7.5" fill="#c9cbbd"/><circle cx="575.3" cy="245.5" r="7.5" fill="#c9cbbd"/><circle cx="582.2" cy="252.4" r="7.5" fill="#c9cbbd"/><circle cx="605.1" cy="247.8" r="7.5" fill="#c9cbbd"/><circle cx="650.1" cy="250.1" r="7.5" fill="#c9cbbd"/><circle cx="595.9" cy="259.3" r="7.5" fill="#c9cbbd"/><circle cx="614.2" cy="259.3" r="7.5" fill="#c9cbbd"/><circle cx="626.5" cy="261.5" r="7.5" fill="#c9cbbd"/><circle cx="641" cy="260.8" r="7.5" fill="#c9cbbd"/><circle cx="582.9" cy="266.9" r="7.5" fill="#c9cbbd"/><circle cx="607.4" cy="267.7" r="7.5" fill="#c9cbbd"/><circle cx="629.5" cy="270" r="7.5" fill="#c9cbbd"/><circle cx="651.7" cy="266.9" r="7.5" fill="#c9cbbd"/><circle cx="593" cy="275.5" r="7.5" fill="#c9cbbd"/><circle cx="618.1" cy="274.5" r="7.5" fill="#c9cbbd"/><circle cx="643.3" cy="271.5" r="7.5" fill="#c9cbbd"/><circle cx="610.4" cy="278.7" r="7.5" fill="#c9cbbd"/><circle cx="621.1" cy="276.4" r="7.5" fill="#c9cbbd"/><circle cx="628.8" cy="284.8" r="7.5" fill="#c9cbbd"/><circle cx="582.9" cy="284.8" r="7.5" fill="#c9cbbd"/><circle cx="599.7" cy="290.9" r="7.5" fill="#c9cbbd"/><circle cx="610.4" cy="292.4" r="7.5" fill="#c9cbbd"/><circle cx="650.1" cy="284.8" r="7.5" fill="#c9cbbd"/><circle cx="581.4" cy="295.5" r="7.5" fill="#c9cbbd"/><circle cx="633.3" cy="296.3" r="7.5" fill="#c9cbbd"/><circle cx="647.1" cy="295.5" r="7.5" fill="#c9cbbd"/><circle cx="595.9" cy="307" r="7.5" fill="#c9cbbd"/><circle cx="610.4" cy="302.4" r="7.5" fill="#c9cbbd"/><circle cx="624.2" cy="307" r="7.5" fill="#c9cbbd"/><circle cx="648.6" cy="306.2" r="7.5" fill="#c9cbbd"/><circle cx="579.1" cy="313.8" r="7.5" fill="#c9cbbd"/><circle cx="608.9" cy="313.8" r="7.5" fill="#c9cbbd"/><circle cx="635.6" cy="315.4" r="7.5" fill="#c9cbbd"/><circle cx="650.1" cy="316.9" r="7.5" fill="#c9cbbd"/><circle cx="579.9" cy="327.6" r="7.5" fill="#c9cbbd"/><circle cx="590.6" cy="324.5" r="7.5" fill="#c9cbbd"/><circle cx="602" cy="323" r="7.5" fill="#c9cbbd"/><circle cx="625.7" cy="325.3" r="7.5" fill="#c9cbbd"/><circle cx="651.7" cy="328.4" r="7.5" fill="#c9cbbd"/><circle cx="587.3" cy="278.2" r="7.5" fill="#c9cbbd"/><circle cx="598.2" cy="281.8" r="7.5" fill="#c9cbbd"/><circle cx="634.5" cy="281.8" r="7.5" fill="#c9cbbd"/><circle cx="587.3" cy="307.3" r="7.5" fill="#c9cbbd"/><circle cx="631" cy="300" r="7.5" fill="#c9cbbd"/><circle cx="601.8" cy="331" r="7.5" fill="#c9cbbd"/><circle cx="590" cy="299" r="7.5" fill="#c9cbbd"/>
<circle cx="630.3" cy="270.8" r="0.7" fill="#666"/><circle cx="634.6" cy="315.4" r="0.7" fill="#666"/><circle cx="645.6" cy="266.9" r="0.7" fill="#666"/>
</g>
<g clip-path="url(#cb2)">
<circle cx="597.2" cy="380.1" r="6.4" fill="#c9cbbd"/><circle cx="609.4" cy="378.9" r="6.4" fill="#c9cbbd"/><circle cx="627.8" cy="381.9" r="6.4" fill="#c9cbbd"/><circle cx="646.8" cy="378.3" r="6.4" fill="#c9cbbd"/><circle cx="600.2" cy="391.1" r="6.4" fill="#c9cbbd"/><circle cx="618" cy="388.1" r="6.4" fill="#c9cbbd"/><circle cx="638.8" cy="388.1" r="6.4" fill="#c9cbbd"/><circle cx="595.9" cy="401.5" r="6.4" fill="#c9cbbd"/><circle cx="611.3" cy="399.1" r="6.4" fill="#c9cbbd"/><circle cx="623.5" cy="400.9" r="6.4" fill="#c9cbbd"/><circle cx="645" cy="399.1" r="6.4" fill="#c9cbbd"/><circle cx="616.8" cy="405.2" r="6.4" fill="#c9cbbd"/><circle cx="598.4" cy="412.6" r="6.4" fill="#c9cbbd"/><circle cx="608.8" cy="412" r="6.4" fill="#c9cbbd"/><circle cx="633.3" cy="409.5" r="6.4" fill="#c9cbbd"/><circle cx="651.1" cy="409.5" r="6.4" fill="#c9cbbd"/><circle cx="596.5" cy="422.4" r="6.4" fill="#c9cbbd"/><circle cx="619.2" cy="420.5" r="6.4" fill="#c9cbbd"/><circle cx="630.2" cy="420.5" r="6.4" fill="#c9cbbd"/><circle cx="641.9" cy="416.9" r="6.4" fill="#c9cbbd"/><circle cx="651.1" cy="424.8" r="6.4" fill="#c9cbbd"/><circle cx="651.7" cy="427.5" r="6.4" fill="#c9cbbd"/><circle cx="598.4" cy="432.4" r="6.4" fill="#c9cbbd"/><circle cx="609.4" cy="429.4" r="6.4" fill="#c9cbbd"/><circle cx="619.2" cy="437.3" r="6.4" fill="#c9cbbd"/><circle cx="633.3" cy="433.6" r="6.4" fill="#c9cbbd"/><circle cx="635.1" cy="441.6" r="6.4" fill="#c9cbbd"/><circle cx="646.8" cy="444.1" r="6.4" fill="#c9cbbd"/><circle cx="600.2" cy="448.3" r="6.4" fill="#c9cbbd"/><circle cx="614.9" cy="447.7" r="6.4" fill="#c9cbbd"/><circle cx="630.9" cy="449.6" r="6.4" fill="#c9cbbd"/><circle cx="604.5" cy="458.8" r="6.4" fill="#c9cbbd"/><circle cx="612.5" cy="458.8" r="6.4" fill="#c9cbbd"/><circle cx="624.1" cy="458.8" r="6.4" fill="#c9cbbd"/><circle cx="635.1" cy="462.4" r="6.4" fill="#c9cbbd"/><circle cx="647.4" cy="461.2" r="6.4" fill="#c9cbbd"/><circle cx="607.6" cy="467.3" r="6.4" fill="#c9cbbd"/><circle cx="604.5" cy="475.9" r="6.4" fill="#c9cbbd"/><circle cx="616.8" cy="473.5" r="6.4" fill="#c9cbbd"/><circle cx="624.1" cy="475.9" r="6.4" fill="#c9cbbd"/><circle cx="640" cy="472.9" r="6.4" fill="#c9cbbd"/>
<circle cx="597.2" cy="380.1" r="0.7" fill="#555"/><circle cx="609.4" cy="378.9" r="0.7" fill="#555"/><circle cx="646.8" cy="378.3" r="1.3" fill="#555"/><circle cx="638.8" cy="388.1" r="0.7" fill="#555"/><circle cx="611.3" cy="399.1" r="0.7" fill="#555"/><circle cx="623.5" cy="400.9" r="1.1" fill="#555"/><circle cx="645" cy="399.1" r="1.2" fill="#555"/><circle cx="608.8" cy="412" r="0.8" fill="#555"/><circle cx="630.2" cy="420.5" r="0.7" fill="#555"/><circle cx="641.9" cy="416.9" r="1.1" fill="#555"/><circle cx="651.7" cy="427.5" r="1.4" fill="#555"/><circle cx="598.4" cy="432.4" r="0.7" fill="#555"/><circle cx="619.2" cy="437.3" r="1.0" fill="#555"/><circle cx="633.3" cy="433.6" r="1.0" fill="#555"/><circle cx="646.8" cy="444.1" r="1.0" fill="#555"/><circle cx="600.2" cy="448.3" r="0.7" fill="#555"/><circle cx="614.9" cy="447.7" r="0.7" fill="#555"/><circle cx="630.9" cy="449.6" r="0.7" fill="#555"/><circle cx="647.4" cy="461.2" r="1.0" fill="#555"/><circle cx="607.6" cy="467.3" r="0.7" fill="#555"/><circle cx="604.5" cy="475.9" r="0.7" fill="#555"/><circle cx="624.1" cy="475.9" r="1.0" fill="#555"/><circle cx="640" cy="472.9" r="1.0" fill="#555"/>
</g>
<g clip-path="url(#cb3)">
<circle cx="568.9" cy="526.2" r="1.7" fill="#c9cbbd"/><circle cx="582.2" cy="526.8" r="2.9" fill="#c9cbbd"/><circle cx="588.3" cy="531.1" r="3.3" fill="#c9cbbd"/><circle cx="602" cy="526.5" r="5.3" fill="#c9cbbd"/><circle cx="616.5" cy="523.5" r="5.3" fill="#c9cbbd"/><circle cx="634.1" cy="527.3" r="5.3" fill="#c9cbbd"/><circle cx="649.4" cy="521.9" r="5.3" fill="#c9cbbd"/><circle cx="577.6" cy="541.5" r="2.9" fill="#c9cbbd"/><circle cx="587.5" cy="543.3" r="3.3" fill="#c9cbbd"/><circle cx="598.2" cy="541" r="5.3" fill="#c9cbbd"/><circle cx="609.7" cy="535.7" r="5.3" fill="#c9cbbd"/><circle cx="621.9" cy="535.2" r="5.3" fill="#c9cbbd"/><circle cx="630.3" cy="543.3" r="5.3" fill="#c9cbbd"/><circle cx="646.3" cy="540.3" r="5.3" fill="#c9cbbd"/><circle cx="571.5" cy="550.2" r="1.7" fill="#c9cbbd"/><circle cx="582.9" cy="552.2" r="2.9" fill="#c9cbbd"/><circle cx="590.1" cy="556.3" r="3.3" fill="#c9cbbd"/><circle cx="608.9" cy="551.3" r="5.3" fill="#c9cbbd"/><circle cx="618.8" cy="550.7" r="5.3" fill="#c9cbbd"/><circle cx="639" cy="552.5" r="5.3" fill="#c9cbbd"/><circle cx="575.6" cy="558.1" r="1.7" fill="#c9cbbd"/><circle cx="599.7" cy="560.6" r="5.3" fill="#c9cbbd"/><circle cx="626" cy="558.6" r="5.3" fill="#c9cbbd"/><circle cx="650.1" cy="558.6" r="5.3" fill="#c9cbbd"/><circle cx="579.1" cy="566.6" r="2.9" fill="#c9cbbd"/><circle cx="589" cy="568.3" r="3.3" fill="#c9cbbd"/><circle cx="567.3" cy="569.8" r="1.7" fill="#c9cbbd"/><circle cx="608.1" cy="569.4" r="5.3" fill="#c9cbbd"/><circle cx="619.6" cy="569.3" r="5.3" fill="#c9cbbd"/><circle cx="638.2" cy="569.4" r="5.3" fill="#c9cbbd"/><circle cx="648.5" cy="571.3" r="5.3" fill="#c9cbbd"/><circle cx="574.8" cy="576.5" r="1.7" fill="#c9cbbd"/><circle cx="584.1" cy="577.2" r="2.9" fill="#c9cbbd"/><circle cx="602.8" cy="582.1" r="5.3" fill="#c9cbbd"/><circle cx="616.2" cy="581" r="5.3" fill="#c9cbbd"/><circle cx="630" cy="579.8" r="5.3" fill="#c9cbbd"/><circle cx="650.9" cy="581.5" r="5.3" fill="#c9cbbd"/><circle cx="569.2" cy="586.1" r="1.7" fill="#c9cbbd"/><circle cx="578.3" cy="588.4" r="2.9" fill="#c9cbbd"/><circle cx="589" cy="586.1" r="3.3" fill="#c9cbbd"/><circle cx="637.2" cy="591.3" r="5.3" fill="#c9cbbd"/><circle cx="599" cy="595.1" r="5.3" fill="#c9cbbd"/><circle cx="612" cy="594.5" r="5.3" fill="#c9cbbd"/><circle cx="623.9" cy="598.9" r="5.3" fill="#c9cbbd"/><circle cx="652.4" cy="600.1" r="5.3" fill="#c9cbbd"/><circle cx="565.3" cy="600.6" r="1.7" fill="#c9cbbd"/><circle cx="573.4" cy="598.2" r="1.7" fill="#c9cbbd"/><circle cx="585.2" cy="600.1" r="3.3" fill="#c9cbbd"/><circle cx="578" cy="605" r="2.9" fill="#c9cbbd"/><circle cx="590.6" cy="607.8" r="3.3" fill="#c9cbbd"/><circle cx="596.7" cy="606.7" r="5.3" fill="#c9cbbd"/><circle cx="610.9" cy="608.5" r="5.3" fill="#c9cbbd"/><circle cx="636.4" cy="606" r="5.3" fill="#c9cbbd"/><circle cx="573.8" cy="614.2" r="1.7" fill="#c9cbbd"/><circle cx="585.2" cy="613.1" r="2.9" fill="#c9cbbd"/><circle cx="604.8" cy="617.7" r="5.3" fill="#c9cbbd"/><circle cx="618.8" cy="620" r="5.3" fill="#c9cbbd"/><circle cx="632.1" cy="617.3" r="5.3" fill="#c9cbbd"/><circle cx="651.7" cy="616.6" r="5.3" fill="#c9cbbd"/><circle cx="582.2" cy="620.3" r="2.9" fill="#c9cbbd"/><circle cx="592.4" cy="620.8" r="3.3" fill="#c9cbbd"/>
<circle cx="568.9" cy="526.2" r="0.8" fill="#5a5a5a"/><circle cx="582.2" cy="526.8" r="1.1" fill="#5a5a5a"/><circle cx="588.3" cy="531.1" r="1.3" fill="#5a5a5a"/><circle cx="602" cy="526.5" r="1.7" fill="#5a5a5a"/><circle cx="616.5" cy="523.5" r="1.7" fill="#5a5a5a"/><circle cx="634.1" cy="527.3" r="1.7" fill="#5a5a5a"/><circle cx="649.4" cy="521.9" r="1.7" fill="#5a5a5a"/><circle cx="577.6" cy="541.5" r="1.1" fill="#5a5a5a"/><circle cx="587.5" cy="543.3" r="1.3" fill="#5a5a5a"/><circle cx="598.2" cy="541" r="1.7" fill="#5a5a5a"/><circle cx="609.7" cy="535.7" r="1.7" fill="#5a5a5a"/><circle cx="621.9" cy="535.2" r="1.7" fill="#5a5a5a"/><circle cx="630.3" cy="543.3" r="1.7" fill="#5a5a5a"/><circle cx="646.3" cy="540.3" r="1.7" fill="#5a5a5a"/><circle cx="571.5" cy="550.2" r="0.8" fill="#5a5a5a"/><circle cx="582.9" cy="552.2" r="1.1" fill="#5a5a5a"/><circle cx="590.1" cy="556.3" r="1.3" fill="#5a5a5a"/><circle cx="608.9" cy="551.3" r="1.7" fill="#5a5a5a"/><circle cx="618.8" cy="550.7" r="1.7" fill="#5a5a5a"/><circle cx="639" cy="552.5" r="1.7" fill="#5a5a5a"/><circle cx="575.6" cy="558.1" r="0.8" fill="#5a5a5a"/><circle cx="599.7" cy="560.6" r="1.7" fill="#5a5a5a"/><circle cx="626" cy="558.6" r="1.7" fill="#5a5a5a"/><circle cx="650.1" cy="558.6" r="1.7" fill="#5a5a5a"/><circle cx="579.1" cy="566.6" r="1.1" fill="#5a5a5a"/><circle cx="589" cy="568.3" r="1.3" fill="#5a5a5a"/><circle cx="567.3" cy="569.8" r="0.8" fill="#5a5a5a"/><circle cx="608.1" cy="569.4" r="1.7" fill="#5a5a5a"/><circle cx="619.6" cy="569.3" r="1.7" fill="#5a5a5a"/><circle cx="638.2" cy="569.4" r="1.7" fill="#5a5a5a"/><circle cx="648.5" cy="571.3" r="1.7" fill="#5a5a5a"/><circle cx="574.8" cy="576.5" r="0.8" fill="#5a5a5a"/><circle cx="584.1" cy="577.2" r="1.1" fill="#5a5a5a"/><circle cx="602.8" cy="582.1" r="1.7" fill="#5a5a5a"/><circle cx="616.2" cy="581" r="1.7" fill="#5a5a5a"/><circle cx="630" cy="579.8" r="1.7" fill="#5a5a5a"/><circle cx="650.9" cy="581.5" r="1.7" fill="#5a5a5a"/><circle cx="569.2" cy="586.1" r="0.8" fill="#5a5a5a"/><circle cx="578.3" cy="588.4" r="1.1" fill="#5a5a5a"/><circle cx="589" cy="586.1" r="1.3" fill="#5a5a5a"/><circle cx="637.2" cy="591.3" r="1.7" fill="#5a5a5a"/><circle cx="599" cy="595.1" r="1.7" fill="#5a5a5a"/><circle cx="612" cy="594.5" r="1.7" fill="#5a5a5a"/><circle cx="623.9" cy="598.9" r="1.7" fill="#5a5a5a"/><circle cx="652.4" cy="600.1" r="1.7" fill="#5a5a5a"/><circle cx="565.3" cy="600.6" r="0.8" fill="#5a5a5a"/><circle cx="573.4" cy="598.2" r="0.8" fill="#5a5a5a"/><circle cx="585.2" cy="600.1" r="1.3" fill="#5a5a5a"/><circle cx="578" cy="605" r="1.1" fill="#5a5a5a"/><circle cx="590.6" cy="607.8" r="1.3" fill="#5a5a5a"/><circle cx="596.7" cy="606.7" r="1.7" fill="#5a5a5a"/><circle cx="610.9" cy="608.5" r="1.7" fill="#5a5a5a"/><circle cx="636.4" cy="606" r="1.7" fill="#5a5a5a"/><circle cx="573.8" cy="614.2" r="0.8" fill="#5a5a5a"/><circle cx="585.2" cy="613.1" r="1.1" fill="#5a5a5a"/><circle cx="604.8" cy="617.7" r="1.7" fill="#5a5a5a"/><circle cx="618.8" cy="620" r="1.7" fill="#5a5a5a"/><circle cx="632.1" cy="617.3" r="1.7" fill="#5a5a5a"/><circle cx="651.7" cy="616.6" r="1.7" fill="#5a5a5a"/><circle cx="582.2" cy="620.3" r="1.1" fill="#5a5a5a"/><circle cx="592.4" cy="620.8" r="1.3" fill="#5a5a5a"/>
</g>
<g clip-path="url(#cb4)">
<circle cx="569.2" cy="673.3" r="0.6" fill="#555"/>
<circle cx="581.7" cy="673.8" r="0.95" fill="#555"/>
<circle cx="588.6" cy="677.7" r="1.15" fill="#555"/>
<rect x="597.0" y="670.7" width="4.1" height="4.1" fill="#737373" transform="rotate(20 599 672.7)"/>
<rect x="606.6" y="674.5" width="4.1" height="4.1" fill="#737373" transform="rotate(45 608.6 676.5)"/>
<rect x="618.0" y="669.9" width="4.1" height="4.1" fill="#737373" transform="rotate(0 620 671.9)"/>
<rect x="636.2" y="669.9" width="4.1" height="4.1" fill="#737373" transform="rotate(45 638.2 671.9)"/>
<rect x="645.1" y="680.9" width="4.1" height="4.1" fill="#737373" transform="rotate(40 647.1 682.9)"/>
<circle cx="577.9" cy="688.3" r="0.95" fill="#555"/>
<circle cx="587.8" cy="690" r="1.15" fill="#555"/>
<rect x="600.0" y="687.0" width="4.1" height="4.1" fill="#737373" transform="rotate(20 602 689)"/>
<rect x="615.2" y="684.9" width="4.1" height="4.1" fill="#737373" transform="rotate(45 617.3 686.9)"/>
<rect x="627.8" y="686.2" width="4.1" height="4.1" fill="#737373" transform="rotate(30 629.8 688.3)"/>
<circle cx="571.5" cy="697" r="0.6" fill="#555"/>
<circle cx="582.9" cy="699" r="0.95" fill="#555"/>
<rect x="605.7" y="695.4" width="4.1" height="4.1" fill="#737373" transform="rotate(0 607.7 697.4)"/>
<rect x="642.5" y="695.1" width="4.1" height="4.1" fill="#737373" transform="rotate(0 644.5 697.1)"/>
<circle cx="575.3" cy="705.4" r="0.6" fill="#555"/>
<circle cx="590" cy="702.8" r="1.15" fill="#555"/>
<rect x="598.2" y="704.4" width="4.1" height="4.1" fill="#737373" transform="rotate(0 600.2 706.4)"/>
<rect x="616.5" y="704.2" width="4.1" height="4.1" fill="#737373" transform="rotate(45 618.5 706.3)"/>
<rect x="631.0" y="702.5" width="4.1" height="4.1" fill="#737373" transform="rotate(45 633 704.5)"/>
<rect x="644.8" y="707.2" width="4.1" height="4.1" fill="#737373" transform="rotate(0 646.8 709.2)"/>
<circle cx="579.2" cy="713.5" r="0.95" fill="#555"/>
<circle cx="567.6" cy="716.8" r="0.6" fill="#555"/>
<circle cx="589.3" cy="715.2" r="1.15" fill="#555"/>
<rect x="615.8" y="711.8" width="4.1" height="4.1" fill="#737373" transform="rotate(0 617.8 713.8)"/>
<rect x="604.6" y="717.1" width="4.1" height="4.1" fill="#737373" transform="rotate(40 606.6 719.1)"/>
<rect x="632.9" y="716.7" width="4.1" height="4.1" fill="#737373" transform="rotate(0 634.9 718.7)"/>
<circle cx="574.8" cy="723.2" r="0.6" fill="#555"/>
<circle cx="584" cy="723.6" r="0.95" fill="#555"/>
<rect x="594.7" y="723.8" width="4.1" height="4.1" fill="#737373" transform="rotate(45 596.7 725.8)"/>
<rect x="621.1" y="723.0" width="4.1" height="4.1" fill="#737373" transform="rotate(0 623.1 725)"/>
<rect x="632.6" y="728.6" width="4.1" height="4.1" fill="#737373" transform="rotate(45 634.6 730.6)"/>
<rect x="648.1" y="730.6" width="4.1" height="4.1" fill="#737373" transform="rotate(0 650.1 732.6)"/>
<circle cx="569.2" cy="733.1" r="0.6" fill="#555"/>
<circle cx="578.3" cy="735.4" r="0.95" fill="#555"/>
<circle cx="589.3" cy="732.9" r="1.15" fill="#555"/>
<rect x="605.8" y="733.7" width="4.1" height="4.1" fill="#737373" transform="rotate(35 607.8 735.7)"/>
<rect x="622.6" y="737.0" width="4.1" height="4.1" fill="#737373" transform="rotate(35 624.6 739)"/>
<rect x="597.2" y="740.1" width="4.1" height="4.1" fill="#737373" transform="rotate(0 599.3 742.1)"/>
<rect x="641.6" y="740.9" width="4.1" height="4.1" fill="#737373" transform="rotate(0 643.6 742.9)"/>
<circle cx="565.3" cy="747.6" r="0.6" fill="#555"/>
<circle cx="573.4" cy="744.8" r="0.6" fill="#555"/>
<circle cx="585.4" cy="746.8" r="1.15" fill="#555"/>
<rect x="614.5" y="744.8" width="4.1" height="4.1" fill="#737373" transform="rotate(0 616.5 746.8)"/>
<circle cx="578.3" cy="752" r="0.95" fill="#555"/>
<circle cx="590.6" cy="754.8" r="1.15" fill="#555"/>
<rect x="600.2" y="752.2" width="4.1" height="4.1" fill="#737373" transform="rotate(30 602.3 754.3)"/>
<rect x="630.1" y="750.0" width="4.1" height="4.1" fill="#737373" transform="rotate(45 632.1 752)"/>
<rect x="641.2" y="755.4" width="4.1" height="4.1" fill="#737373" transform="rotate(45 643.3 757.4)"/>
<circle cx="573.8" cy="760.9" r="0.6" fill="#555"/>
<circle cx="585.5" cy="759.8" r="0.95" fill="#555"/>
<rect x="599.6" y="762.4" width="4.1" height="4.1" fill="#737373" transform="rotate(10 601.6 764.4)"/>
<rect x="618.7" y="762.4" width="4.1" height="4.1" fill="#737373" transform="rotate(30 620.7 764.4)"/>
<rect x="632.4" y="763.9" width="4.1" height="4.1" fill="#737373" transform="rotate(30 634.4 765.9)"/>
<circle cx="582.5" cy="767.3" r="0.95" fill="#555"/>
<circle cx="592.4" cy="767.5" r="1.15" fill="#555"/>
</g>
<line x1="545.5" y1="79.2" x2="545.5" y2="191.20000000000002" stroke="#c8c8c8" stroke-width="0.8" stroke-dasharray="1 1"/>
<rect x="545.3" y="76.7" width="115.7" height="2.5" fill="#949494"/>
<rect x="545.3" y="191.20000000000002" width="115.7" height="2.6" fill="#949494"/>
<rect x="658.0" y="76.7" width="3.0" height="117.10000000000001" fill="#949494"/>
<line x1="545.5" y1="222.2" x2="545.5" y2="334.59999999999997" stroke="#c8c8c8" stroke-width="0.8" stroke-dasharray="1 1"/>
<rect x="545.3" y="219.7" width="115.7" height="2.5" fill="#949494"/>
<rect x="545.3" y="334.59999999999997" width="115.7" height="2.6" fill="#949494"/>
<rect x="658.0" y="219.7" width="3.0" height="117.5" fill="#949494"/>
<line x1="545.5" y1="368.4" x2="545.5" y2="480.59999999999997" stroke="#c8c8c8" stroke-width="0.8" stroke-dasharray="1 1"/>
<rect x="545.3" y="365.9" width="115.7" height="2.5" fill="#949494"/>
<rect x="545.3" y="480.59999999999997" width="115.7" height="2.6" fill="#949494"/>
<rect x="658.0" y="365.9" width="3.0" height="117.30000000000001" fill="#949494"/>
<line x1="545.5" y1="514.3" x2="545.5" y2="626.6" stroke="#c8c8c8" stroke-width="0.8" stroke-dasharray="1 1"/>
<rect x="545.3" y="511.8" width="115.7" height="2.5" fill="#949494"/>
<rect x="545.3" y="626.6" width="115.7" height="2.6" fill="#949494"/>
<rect x="658.0" y="511.8" width="3.0" height="117.40000000000003" fill="#949494"/>
<line x1="545.5" y1="661.1" x2="545.5" y2="773.3" stroke="#c8c8c8" stroke-width="0.8" stroke-dasharray="1 1"/>
<rect x="545.3" y="658.6" width="115.7" height="2.5" fill="#949494"/>
<rect x="545.3" y="773.3" width="115.7" height="2.6" fill="#949494"/>
<rect x="658.0" y="658.6" width="3.0" height="117.29999999999995" fill="#949494"/>
</svg></body></html>
